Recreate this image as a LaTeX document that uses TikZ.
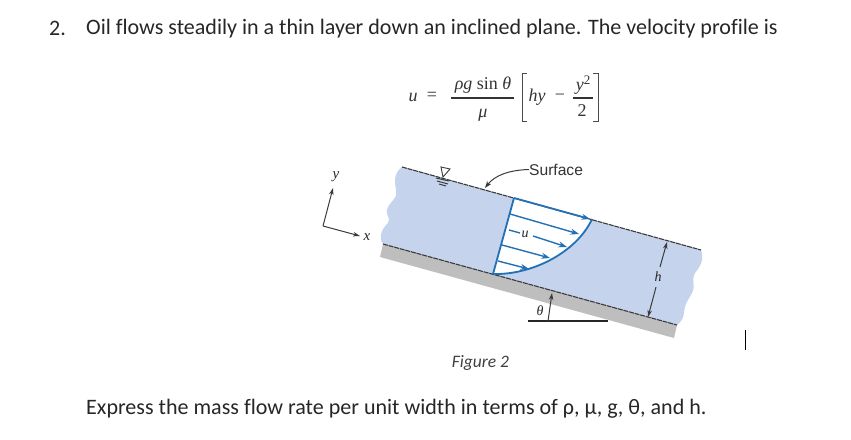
\documentclass[tikz,border=0pt]{standalone}
\usepackage{fontspec}
\setmainfont[Ligatures=NoCommon]{Carlito}
\newfontfamily\eqf{Liberation Serif}
\newfontfamily\labf{Liberation Sans}
\usetikzlibrary{arrows.meta}
\definecolor{fluid}{HTML}{C5D3EC}
\definecolor{wall}{HTML}{BEBEBE}
\definecolor{prof}{HTML}{2270B5}
\definecolor{ink}{HTML}{3A3A3A}
\tikzset{
  body/.style={font=\fontsize{22.05}{26}\selectfont,text=black!85,inner sep=0pt,anchor=west},
  eq/.style={font=\eqf\fontsize{18}{20}\selectfont\itshape,text=black!80,inner sep=0pt},
  eqr/.style={font=\eqf\fontsize{18}{20}\selectfont,text=black!80,inner sep=0pt},
  sym/.style={font=\eqf\fontsize{14}{16}\selectfont\itshape,text=black!85,inner sep=0pt},
  surfline/.style={draw=ink,line width=1.1pt,dash pattern=on 5pt off 0.8pt},
  profarrow/.style={draw=prof,line width=1.4pt,-{Stealth[length=8.5pt,width=6pt]}},
  dim/.style={draw=ink,line width=1pt,-{Stealth[length=7pt,width=4.5pt]}},
  brk/.style={draw=black!70,line width=1pt}
}
\begin{document}
\begin{tikzpicture}[x=1pt,y=-1pt]
\useasboundingbox (0,0) rectangle (851,439);
% texts
\node[body] (t1) at (49,28.5) {2.};
\node[body] (t2) at (86,28.5) {Oil flows steadily in a thin layer down an inclined plane. The velocity profile is};
\node[body] (t3) at (86,408.5) {Express the mass flow rate per unit width in terms of ρ, μ, g, θ, and h.};
\node[font=\fontsize{17.5}{20}\selectfont\itshape,text=black!75,inner sep=0pt] (fig) at (480.5,363) {Figure 2};
% equation
\node[eq] (equ) at (413,97) {u};
\node[eqr] (eqs) at (432,96) {=};
\node[eq] (num) at (483,85) {ρg {\upshape sin} θ};
\coordinate (fa) at (451,98); \coordinate (fb) at (514,98);
\draw[draw=black!80,line width=1.3pt] (fa) -- (fb);
\node[eq] (den) at (483,115) {μ};
\draw[brk] (527,73) -- (522,73) -- (522,121) -- (527,121);
\node[eq] (hy) at (537,97) {hy};
\node[eqr] (minus) at (560,97) {−};
\node[eq] (ysq) at (583,85) {y\raisebox{6pt}{\fontsize{13}{13}\selectfont\upshape 2}};
\coordinate (ga) at (573,98); \coordinate (gb) at (593,98);
\draw[draw=black!80,line width=1.3pt] (ga) -- (gb);
\node[eqr] (two) at (582,111) {2};
\draw[brk] (593,73) -- (598,73) -- (598,121) -- (593,121);
% wall
\fill[wall] (383,244) -- (677,325) -- (674,338) -- (380,257) -- cycle;
% fluid
\fill[fluid] (402,167) -- (701,250)
  .. controls (703,256) and (704,262) .. (695,273)
  .. controls (691,280) and (696,286) .. (692,293)
  .. controls (689,299) and (686,302) .. (685,307)
  .. controls (683,312) and (686,318) .. (677,325)
  -- (383,244)
  .. controls (378,237) and (382,233) .. (383,229)
  .. controls (387,223) and (391,222) .. (388,216)
  .. controls (384,208) and (390,205) .. (394,199)
  .. controls (399,193) and (394,186) .. (395,179)
  .. controls (396,173) and (398,170) .. (402,167) -- cycle;
% profile region
\coordinate (ptop) at (514,198);
\coordinate (pbot) at (493,274);
\coordinate (ptip) at (592,219);
\fill[white] (ptop) -- (ptip) .. controls (578,250) and (535,275) .. (pbot) -- cycle;
\draw[surfline] (402,167) -- (701,250);
\draw[surfline] (383,244) -- (677,325);
\draw[draw=prof,line width=1.8pt] (ptop) -- (pbot);
\draw[draw=prof,line width=1.8pt] (ptip) .. controls (578,250) and (535,275) .. (pbot);
\coordinate (a1s) at (514,198); \coordinate (a1e) at (590,219);
\draw[profarrow,line width=1.8pt] (a1s) -- (a1e);
\coordinate (a2s) at (510,214); \coordinate (a2e) at (579,234);
\draw[profarrow] (a2s) -- (a2e);
\coordinate (a3s) at (509,230); \coordinate (a3e) at (520,233);
\draw[draw=prof,line width=1.4pt] (a3s) -- (a3e);
\coordinate (a3b) at (533,236); \coordinate (a3f) at (567,247);
\draw[profarrow] (a3b) -- (a3f);
\node[sym] (ulab) at (525,234) {u};
\coordinate (a4s) at (502,245); \coordinate (a4e) at (550,258);
\draw[profarrow] (a4s) -- (a4e);
\coordinate (a5s) at (498,261); \coordinate (a5e) at (529,269);
\draw[profarrow] (a5s) -- (a5e);
% surface label
\node[font=\labf\fontsize{15.6}{18}\selectfont,text=black!80,inner sep=0pt,anchor=west] (surf) at (529,169.5) {Surface};
\coordinate (sp) at (485,188);
\draw[draw=ink,line width=1pt,-{Stealth[length=7pt,width=5pt]}] (surf.west) .. controls (510,170) and (495,175) .. (sp);
% free surface symbol
\coordinate (w1) at (441,167); \coordinate (w2) at (450,169); \coordinate (w3) at (443,177);
\draw[draw=ink,line width=0.9pt] (w1) -- (w2) -- (w3) -- cycle;
\draw[draw=ink,line width=1pt] (436,178) -- (449,181) (437,181) -- (448,184) (439,184) -- (446,186);
% angle
\coordinate (ha) at (528,321); \coordinate (hb) at (608,321);
\draw[draw=black!85,line width=1.1pt] (ha) -- (hb);
\coordinate (ang0) at (548,321); \coordinate (ang1) at (552,293);
\draw[dim] (ang0) -- (ang1);
\node[sym] (th) at (540,311) {θ};
% h dimension
\node[sym] (hlab) at (658,277) {h};
\coordinate (hup) at (667,242); \coordinate (hdn) at (648,317);
\draw[dim] (hlab.north) ++(2,-5) -- (hup);
\draw[dim] (hlab.south) ++(-2,5) -- (hdn);
% axes
\coordinate (o) at (323,226); \coordinate (ay) at (333,188); \coordinate (ax) at (360,236);
\draw[dim] (o) -- (ay);
\draw[dim] (o) -- (ax);
\node[sym,font=\eqf\fontsize{15}{16}\selectfont\itshape] (ylab) at (336,177) {y};
\node[sym,font=\eqf\fontsize{15}{16}\selectfont\itshape] (xlab) at (367,237) {x};
% cursor
\coordinate (c1) at (745,330); \coordinate (c2) at (745,350);
\draw[draw=black,line width=1pt] (c1) -- (c2);
\end{tikzpicture}
\end{document}
